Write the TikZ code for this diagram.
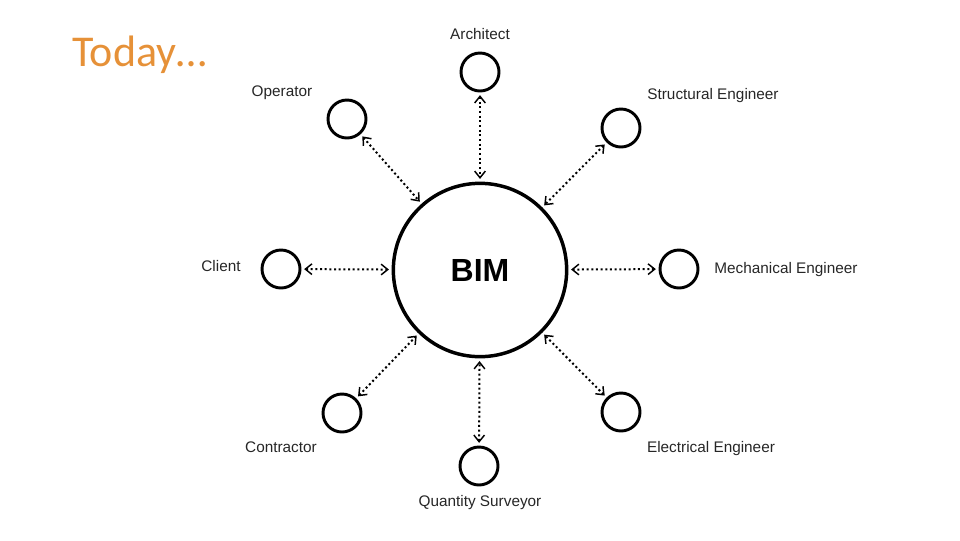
\documentclass[tikz,border=0pt]{standalone}
\usepackage{fontspec}
\setmainfont{Liberation Sans}
\newfontfamily\calfont{Carlito}
\usetikzlibrary{arrows.meta}
\definecolor{todayc}{RGB}{230,145,56}
\begin{document}
\begin{tikzpicture}[x=0.75pt,y=-0.75pt,
  small/.style={circle,draw,line width=2.2pt,minimum size=28.5pt,inner sep=0pt},
  lbl/.style={font=\fontsize{11.5pt}{13pt}\selectfont,text=black!85,inner sep=0pt},
  link/.style={line width=1.5pt,dotted,{Straight Barb[length=5pt,width=8pt,line width=1.1pt]}-{Straight Barb[length=5pt,width=8pt,line width=1.1pt]},shorten <=2pt,shorten >=2pt}]
\path[use as bounding box] (0,0) rectangle (960,540);
\node[anchor=west,text=todayc,font=\calfont\fontsize{33pt}{36pt}\selectfont,inner sep=0pt] (today) at (72,55) {Today…};
\node[circle,draw,line width=2.6pt,minimum size=130pt,inner sep=0pt,font=\bfseries\fontsize{24pt}{26pt}\selectfont] (bim) at (480,270) {BIM};
\node[small] (arch) at (480,72) {};
\node[small] (oper) at (347,119) {};
\node[small] (stru) at (621,128) {};
\node[small] (clie) at (281,269) {};
\node[small] (mech) at (679,269) {};
\node[small] (cont) at (342,413) {};
\node[small] (quan) at (479,466) {};
\node[small] (elec) at (621,412) {};
\node[lbl] (larch) at (480,34) {Architect};
\node[lbl] (loper) at (282,93) {Operator};
\node[lbl] (lstru) at (713,96) {Structural Engineer};
\node[lbl] (lclie) at (221,266) {Client};
\node[lbl] (lmech) at (786,270) {Mechanical Engineer};
\node[lbl] (lcont) at (281,447) {Contractor};
\node[lbl] (lquan) at (480,503) {Quantity Surveyor};
\node[lbl] (lelec) at (711,449) {Electrical Engineer};
\foreach \n in {arch,oper,stru,clie,mech,cont,quan,elec}
  \draw[link] (\n) -- (bim);
\end{tikzpicture}
\end{document}
